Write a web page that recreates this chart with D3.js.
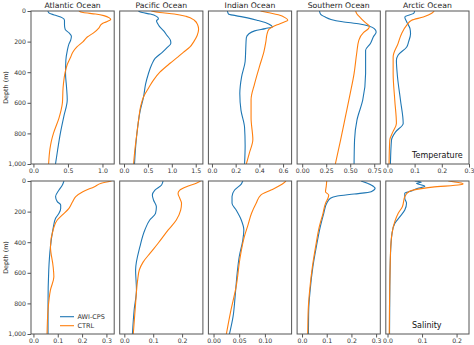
<!DOCTYPE html>
<html>
<head>
<meta charset="utf-8">
<script src="https://cdn.jsdelivr.net/npm/d3@7"></script>
<style>
  body { margin: 0; background: #fff; }
  svg text { font-family: "DejaVu Sans", sans-serif; }
</style>
</head>
<body>
<svg id="chart" width="474" height="345"></svg>
<script>
// basins and model runs
const oceans = ["Atlantic Ocean", "Pacific Ocean", "Indian Ocean", "Southern Ocean", "Arctic Ocean"];
const runNames = ["AWI-CPS", "CTRL"];
const runColors = ["#1f77b4", "#ff7f0e"];
const depthTicks = [0, 200, 400, 600, 800, 1000];

// temperature profiles, [depth (m), value]
const atlTempAwi = [[0,0.21],[10,0.22],[20,0.26],[30,0.33],[45,0.42],[60,0.45],[90,0.45],[120,0.46],[145,0.52],[165,0.55],[190,0.54],[215,0.515],[260,0.49],[320,0.47],[410,0.465],[500,0.48],[580,0.49],[690,0.44],[800,0.39],[910,0.35],[1000,0.32]];
const atlTempCtrl = [[0,0.66],[10,0.72],[20,0.9],[30,1.02],[45,1.1],[55,1.12],[70,1.06],[85,0.99],[110,0.95],[140,0.88],[170,0.78],[200,0.72],[235,0.63],[270,0.57],[300,0.54],[350,0.49],[400,0.46],[500,0.43],[600,0.42],[650,0.4],[700,0.37],[800,0.29],[850,0.26],[900,0.24],[1000,0.22]];
const pacTempAwi = [[0,0.30],[10,0.38],[20,0.55],[35,0.68],[50,0.72],[65,0.68],[80,0.7],[100,0.74],[130,0.83],[160,0.9],[190,0.97],[210,0.98],[240,0.9],[270,0.8],[310,0.65],[350,0.58],[410,0.51],[480,0.45],[560,0.41],[650,0.34],[800,0.27],[900,0.24],[1000,0.22]];
const pacTempCtrl = [[0,0.57],[10,0.75],[20,1.05],[35,1.3],[60,1.47],[90,1.54],[120,1.56],[160,1.53],[200,1.46],[235,1.38],[270,1.24],[300,1.13],[340,0.97],[400,0.75],[450,0.62],[500,0.52],[560,0.41],[620,0.35],[700,0.31],[800,0.27],[900,0.23],[1000,0.2]];
const indTempAwi = [[0,0.13],[20,0.14],[30,0.2],[45,0.3],[60,0.38],[75,0.45],[95,0.5],[104,0.51],[115,0.45],[130,0.36],[150,0.31],[175,0.29],[250,0.285],[330,0.28],[430,0.25],[540,0.235],[650,0.245],[760,0.275],[880,0.28],[1000,0.275]];
const indTempCtrl = [[0,0.41],[10,0.47],[25,0.56],[45,0.62],[60,0.64],[75,0.6],[90,0.55],[104,0.51],[120,0.48],[150,0.465],[200,0.455],[260,0.44],[365,0.40],[475,0.36],[580,0.33],[700,0.33],[840,0.345],[930,0.315],[1000,0.29]];
const souTempAwi = [[0,0.18],[20,0.19],[40,0.24],[55,0.3],[70,0.42],[85,0.6],[100,0.7],[115,0.75],[137,0.77],[170,0.74],[213,0.71],[257,0.66],[409,0.66],[583,0.63],[713,0.57],[843,0.545],[1000,0.54]];
const souTempCtrl = [[0,0.556],[20,0.57],[40,0.6],[60,0.63],[83,0.67],[100,0.7],[115,0.69],[140,0.64],[190,0.59],[278,0.567],[409,0.54],[539,0.5],[691,0.45],[843,0.4],[1000,0.345]];
const arcTempAwi = [[0,0.10],[15,0.097],[39,0.064],[72,0.071],[115,0.083],[148,0.085],[200,0.078],[235,0.071],[289,0.039],[322,0.033],[430,0.037],[583,0.048],[735,0.058],[790,0.03],[843,0.015],[1000,0.011]];
const arcTempCtrl = [[0,0.172],[15,0.163],[39,0.132],[61,0.089],[93,0.071],[148,0.052],[213,0.039],[300,0.021],[409,0.021],[583,0.027],[735,0.033],[790,0.02],[843,0.0086],[1000,0.006]];

// salinity profiles, [depth (m), value]
const atlSalAwi = [[0,0.1255],[26,0.119],[59,0.105],[102,0.091],[135,0.098],[157,0.112],[179,0.112],[211,0.105],[244,0.091],[309,0.081],[429,0.07],[582,0.063],[800,0.06],[1000,0.06]];
const atlSalCtrl = [[0,0.321],[15,0.279],[37,0.251],[70,0.203],[102,0.174],[135,0.161],[179,0.146],[222,0.119],[255,0.098],[320,0.081],[429,0.07],[560,0.081],[625,0.084],[712,0.07],[843,0.06],[1000,0.056]];
const pacSalAwi = [[0,0.134],[26,0.129],[59,0.106],[92,0.097],[124,0.101],[168,0.111],[211,0.108],[255,0.088],[320,0.071],[429,0.054],[582,0.039],[712,0.042],[843,0.034],[1000,0.028]];
const pacSalCtrl = [[0,0.264],[15,0.249],[37,0.215],[59,0.192],[81,0.186],[113,0.192],[146,0.198],[190,0.195],[255,0.18],[320,0.152],[407,0.117],[470,0.09],[530,0.065],[580,0.052],[650,0.046],[800,0.039],[1000,0.031]];
const indSalAwi = [[0,0.057],[20,0.054],[59,0.041],[102,0.036],[146,0.036],[190,0.044],[255,0.054],[320,0.059],[386,0.057],[495,0.05],[603,0.046],[756,0.042],[887,0.038],[1000,0.031]];
const indSalCtrl = [[0,0.141],[20,0.134],[59,0.112],[92,0.092],[146,0.083],[211,0.074],[288,0.067],[364,0.06],[495,0.052],[690,0.044],[843,0.034],[1000,0.025]];
const souSalAwi = [[0,0.239],[26,0.28],[48,0.296],[70,0.28],[85,0.211],[98,0.143],[113,0.115],[146,0.1],[211,0.088],[298,0.074],[429,0.058],[560,0.044],[712,0.033],[843,0.027],[1000,0.026]];
const souSalCtrl = [[0,0.1],[35,0.098],[70,0.095],[92,0.108],[113,0.105],[146,0.095],[211,0.085],[298,0.07],[429,0.055],[560,0.042],[712,0.031],[843,0.025],[1000,0.023]];
const arcSalAwi = [[0,0.079],[8,0.098],[15,0.084],[35,0.108],[50,0.084],[65,0.07],[80,0.05],[113,0.05],[146,0.055],[190,0.05],[233,0.036],[277,0.021],[342,0.013],[473,0.0087],[691,0.0067],[1000,0.0058]];
const arcSalCtrl = [[0,0.176],[10,0.205],[18,0.219],[25,0.21],[40,0.13],[48,0.103],[65,0.065],[102,0.05],[168,0.043],[211,0.031],[266,0.021],[342,0.013],[473,0.0085],[1000,0.005]];

// x-axis settings per panel
const tempDomains = [[-0.035, 1.17], [-0.09, 1.65], [-0.03, 0.672], [-0.053, 0.813], [-0.006, 0.30]];
const tempTicks = [[0, 0.5, 1.0], [0, 0.5, 1.0, 1.5], [0, 0.2, 0.4, 0.6], [0, 0.25, 0.5, 0.75], [0, 0.1, 0.2, 0.3]];
const tempFormats = [".1f", ".1f", ".1f", ".2f", ".1f"];
const salDomains = [[-0.01, 0.332], [-0.016, 0.272], [-0.01, 0.152], [-0.02, 0.317], [-0.005, 0.236]];
const salTicks = [[0, 0.1, 0.2, 0.3], [0, 0.1, 0.2], [0, 0.05, 0.1], [0, 0.1, 0.2, 0.3], [0, 0.1, 0.2]];
const salFormats = [".1f", ".1f", ".2f", ".1f", ".1f"];

const rows = [
  {
    name: "Temperature", top: 11, domains: tempDomains, ticks: tempTicks, formats: tempFormats,
    series: [[atlTempAwi, atlTempCtrl], [pacTempAwi, pacTempCtrl], [indTempAwi, indTempCtrl], [souTempAwi, souTempCtrl], [arcTempAwi, arcTempCtrl]]
  },
  {
    name: "Salinity", top: 181, domains: salDomains, ticks: salTicks, formats: salFormats,
    series: [[atlSalAwi, atlSalCtrl], [pacSalAwi, pacSalCtrl], [indSalAwi, indSalCtrl], [souSalAwi, souSalCtrl], [arcSalAwi, arcSalCtrl]]
  }
];

const panelLeft = 31, panelWidth = 83.2, panelStep = 88.7, panelHeight = 153;
const frameColor = "#555";

const svg = d3.select("#chart");

rows.forEach((row, r) => {
  const y = d3.scaleLinear().domain([0, 1000]).range([row.top, row.top + panelHeight]);

  oceans.forEach((ocean, i) => {
    const left = panelLeft + i * panelStep;
    const x = d3.scaleLinear().domain(row.domains[i]).range([left, left + panelWidth]);
    const g = svg.append("g");

    const clipId = `clip-${r}-${i}`;
    g.append("clipPath").attr("id", clipId)
      .append("rect")
      .attr("x", left).attr("y", row.top)
      .attr("width", panelWidth).attr("height", panelHeight);

    const line = d3.line()
      .x(d => x(d[1]))
      .y(d => y(d[0]))
      .curve(d3.curveMonotoneY);

    g.append("g").attr("clip-path", `url(#${clipId})`)
      .selectAll("path")
      .data(row.series[i])
      .enter()
      .append("path")
      .attr("d", line)
      .attr("fill", "none")
      .attr("stroke", (d, k) => runColors[k])
      .attr("stroke-width", 1.1)
      .attr("stroke-linejoin", "round");

    // frame
    g.append("rect")
      .attr("x", left).attr("y", row.top)
      .attr("width", panelWidth).attr("height", panelHeight)
      .attr("fill", "none")
      .attr("stroke", frameColor)
      .attr("stroke-width", 1);

    // x axis
    const xAxis = g.append("g")
      .attr("transform", `translate(0,${row.top + panelHeight})`)
      .call(d3.axisBottom(x)
        .tickValues(row.ticks[i])
        .tickFormat(d3.format(row.formats[i]))
        .tickSize(3.5)
        .tickPadding(1.5));
    xAxis.select(".domain").remove();
    xAxis.selectAll("line").attr("stroke", frameColor);
    xAxis.selectAll("text")
      .attr("fill", "#333")
      .style("font-size", "6.2px")
      .style("font-family", "'DejaVu Sans', sans-serif");

    // depth axis on the first column only
    if (i === 0) {
      const yAxis = g.append("g")
        .attr("transform", `translate(${left},0)`)
        .call(d3.axisLeft(y)
          .tickValues(depthTicks)
          .tickSize(3.5)
          .tickPadding(1.5));
      yAxis.select(".domain").remove();
      yAxis.selectAll("line").attr("stroke", frameColor);
      yAxis.selectAll("text")
        .attr("fill", "#333")
        .style("font-size", "6.2px")
        .style("font-family", "'DejaVu Sans', sans-serif");

      svg.append("text")
        .attr("transform", `translate(8,${row.top + panelHeight / 2}) rotate(-90)`)
        .attr("text-anchor", "middle")
        .attr("fill", "#333")
        .style("font-size", "6.4px")
        .text("Depth (m)");
    }

    if (r === 0) {
      svg.append("text")
        .attr("x", left + panelWidth / 2)
        .attr("y", 8)
        .attr("text-anchor", "middle")
        .attr("fill", "#222")
        .style("font-size", "7.7px")
        .text(ocean);
    }
  });

  // variable name in the Arctic panel
  svg.append("text")
    .attr("x", 412)
    .attr("y", row.top + panelHeight - 6)
    .attr("fill", "#111")
    .style("font-size", "8px")
    .text(row.name);
});

// legend in the lower Atlantic panel
const legend = svg.append("g");
runNames.forEach((name, k) => {
  const ly = 316.7 + k * 9;
  legend.append("line")
    .attr("x1", 60).attr("x2", 74)
    .attr("y1", ly).attr("y2", ly)
    .attr("stroke", runColors[k])
    .attr("stroke-width", 1.1);
  legend.append("text")
    .attr("x", 77.5).attr("y", ly)
    .attr("dy", "0.35em")
    .attr("fill", "#333")
    .style("font-size", "6.5px")
    .text(name);
});
</script>
</body>
</html>
